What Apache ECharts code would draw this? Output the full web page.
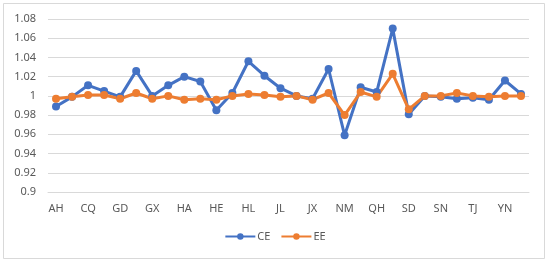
<!DOCTYPE html>
<html>
<head>
<meta charset="utf-8">
<script src="https://cdn.jsdelivr.net/npm/echarts@6/dist/echarts.min.js"></script>
<style>html,body{margin:0;padding:0;background:#fff;}#c{width:550px;height:264px;}</style>
</head>
<body>
<div id="c"></div>
<script>
var categories = ['AH','BJ','CQ','FJ','GD','GS','GX','GZ','HA','HB','HE','HI','HL','HN','JL','JS','JX','LN','NM','NX','QH','SC','SD','SH','SN','SX','TJ','XJ','YN','ZJ'];
var ceValues = [0.989,0.999,1.011,1.005,0.999,1.026,1.000,1.011,1.020,1.015,0.985,1.003,1.036,1.021,1.008,1.000,0.997,1.028,0.959,1.009,1.004,1.070,0.981,1.000,0.999,0.997,0.998,0.996,1.016,1.002];
var eeValues = [0.997,0.999,1.001,1.001,0.997,1.003,0.997,1.000,0.996,0.997,0.996,1.000,1.002,1.001,0.999,1.000,0.996,1.003,0.980,1.004,0.999,1.023,0.986,1.000,1.000,1.003,1.000,0.999,1.000,1.000];
var yTicks = {min:0.9, max:1.08, interval:0.02};

var chart = echarts.init(document.getElementById('c'), null, {renderer:'canvas'});
var font = 'Noto Sans';
chart.setOption({
  animation:false,
  backgroundColor:'#fff',
  graphic:[{type:'rect', shape:{x:3.5,y:3.5,width:541,height:255}, style:{fill:'none', stroke:'#d9d9d9', lineWidth:1}, z:-1}],
  grid:{left:48, right:21, top:19, bottom:72},
  legend:{
    bottom:17, left:'center', itemWidth:30, itemHeight:8, itemGap:10,
    textStyle:{color:'#595959', fontSize:11, fontFamily:font, padding:[0,0,0,-3]},
    data:['CE','EE']
  },
  xAxis:{
    type:'category', data:categories, boundaryGap:true,
    axisLine:{show:true, lineStyle:{color:'#d9d9d9'}},
    axisTick:{show:false},
    axisLabel:{interval:1, color:'#595959', fontSize:11, fontFamily:font, margin:11}
  },
  yAxis:{
    type:'value', min:yTicks.min, max:yTicks.max, interval:yTicks.interval,
    axisLine:{show:false}, axisTick:{show:false},
    splitLine:{lineStyle:{color:'#d9d9d9'}},
    axisLabel:{color:'#595959', fontSize:11, fontFamily:font, margin:12,
      formatter:function(v){return String(parseFloat(v.toFixed(2)));}}
  },
  series:[
    {name:'CE', type:'line', data:ceValues, symbol:'circle', symbolSize:8,
     lineStyle:{width:3, color:'#4472C4'}, itemStyle:{color:'#4472C4'}},
    {name:'EE', type:'line', data:eeValues, symbol:'circle', symbolSize:8,
     lineStyle:{width:3, color:'#ED7D31'}, itemStyle:{color:'#ED7D31'}}
  ]
});
</script>
</body>
</html>
